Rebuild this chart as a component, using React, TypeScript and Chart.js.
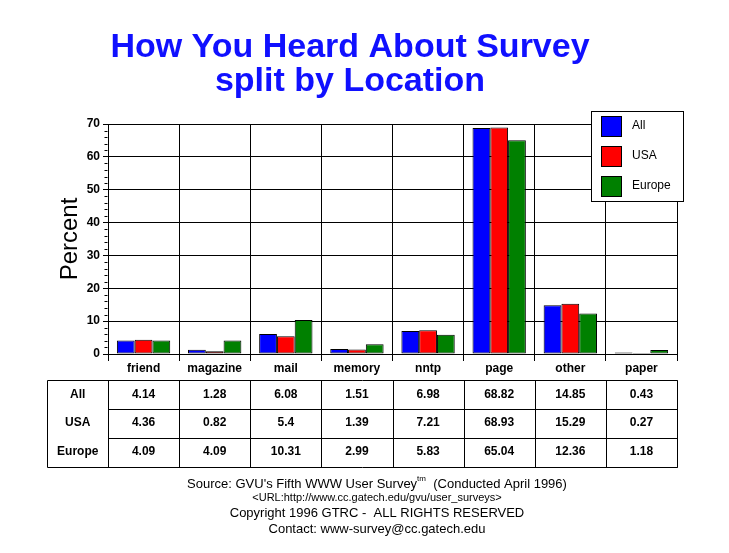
import React, { useEffect, useRef } from "react";
import { Chart, registerables } from "chart.js";

Chart.register(...registerables);

const categories = ["friend", "magazine", "mail", "memory", "nntp", "page", "other", "paper"];
const seriesNames = ["All", "USA", "Europe"];
const allValues = [4.14, 1.28, 6.08, 1.51, 6.98, 68.82, 14.85, 0.43];
const usaValues = [4.36, 0.82, 5.4, 1.39, 7.21, 68.93, 15.29, 0.27];
const europeValues = [4.09, 4.09, 10.31, 2.99, 5.83, 65.04, 12.36, 1.18];
const seriesColors = ["#0000ff", "#ff0000", "#008000"];
const yTicks = [0, 10, 20, 30, 40, 50, 60, 70];
const titleLines = ["How You Heard About Survey", "split by Location"];
const yTitle = "Percent";

const FONT = "Arial, 'Liberation Sans', sans-serif";

const overlay = {
  id: "overlay",
  afterDraw(chart: any) {
    const ctx = chart.ctx as CanvasRenderingContext2D;
    const area = chart.chartArea;
    const xs = chart.scales.x;
    const ys = chart.scales.y;
    ctx.save();

    // Title
    ctx.fillStyle = "#1010ff";
    ctx.font = `bold 34px ${FONT}`;
    ctx.textAlign = "center";
    ctx.textBaseline = "alphabetic";
    ctx.fillText(titleLines[0], 350, 57);
    ctx.fillText(titleLines[1], 350, 91);

    // Y title
    ctx.save();
    ctx.translate(70, (area.top + area.bottom) / 2);
    ctx.rotate(-Math.PI / 2);
    ctx.fillStyle = "#000";
    ctx.font = `24px ${FONT}`;
    ctx.textAlign = "center";
    ctx.textBaseline = "middle";
    ctx.fillText(yTitle, 0, 0);
    ctx.restore();

    // Minor ticks
    ctx.strokeStyle = "#000";
    ctx.lineWidth = 1;
    const ax = Math.round(area.left) - 0.5;
    ctx.beginPath();
    for (let v = 0; v <= ys.max; v += 2) {
      if (v % 10 === 0) continue;
      const y = Math.round(ys.getPixelForValue(v)) + 0.5;
      ctx.moveTo(ax - 3, y);
      ctx.lineTo(ax, y);
    }
    ctx.stroke();

    // Legend
    const lx = 591, ly = 111, lw = 92, lh = 90;
    ctx.fillStyle = "#fff";
    ctx.fillRect(lx, ly, lw, lh);
    ctx.strokeRect(lx + 0.5, ly + 0.5, lw, lh);
    ctx.font = `12px ${FONT}`;
    ctx.textAlign = "left";
    ctx.textBaseline = "middle";
    seriesNames.forEach((name, i) => {
      const sy = 116 + i * 30;
      ctx.fillStyle = seriesColors[i];
      ctx.fillRect(601, sy, 20, 20);
      ctx.strokeStyle = "#000";
      ctx.strokeRect(601.5, sy + 0.5, 20, 20);
      ctx.fillStyle = "#000";
      ctx.fillText(name, 632, sy + 10);
    });

    // Table
    const n = categories.length;
    const cw = (area.right - area.left) / n;
    const tTop = 380.5;
    const rh = 28.7;
    const tLeft = 47.5;
    const tRight = Math.round(area.right) + 0.5;
    const tBottom = Math.round(tTop + 3 * rh) + 0.5;
    ctx.strokeStyle = "#000";
    ctx.beginPath();
    ctx.rect(tLeft, tTop, tRight - tLeft, tBottom - tTop);
    for (let i = 0; i <= n; i++) {
      const x = Math.round(area.left + i * cw) + 0.5;
      ctx.moveTo(x, tTop);
      ctx.lineTo(x, tBottom);
    }
    for (let r = 1; r < 3; r++) {
      const y = Math.round(tTop + r * rh) + 0.5;
      ctx.moveTo(Math.round(area.left) + 0.5, y);
      ctx.lineTo(tRight, y);
    }
    ctx.stroke();
    const rows = [allValues, usaValues, europeValues];
    ctx.fillStyle = "#000";
    ctx.font = `bold 12px ${FONT}`;
    ctx.textAlign = "center";
    ctx.textBaseline = "middle";
    rows.forEach((vals, r) => {
      const cy = tTop + r * rh + rh / 2 - 0.5;
      ctx.fillText(seriesNames[r], (tLeft + area.left) / 2, cy);
      vals.forEach((v, i) => {
        ctx.fillText(String(v), xs.getPixelForValue(i), cy);
      });
    });

    // Footer
    ctx.textBaseline = "middle";
    const fcx = 377;
    const l1a = "Source: GVU's Fifth WWW User Survey";
    const l1b = "  (Conducted April 1996)";
    ctx.font = `13px ${FONT}`;
    const wa = ctx.measureText(l1a).width;
    const wb = ctx.measureText(l1b).width;
    ctx.font = `8px ${FONT}`;
    const wt = ctx.measureText("tm").width;
    const total = wa + wt + wb;
    const sx = fcx - total / 2;
    ctx.textAlign = "left";
    ctx.font = `13px ${FONT}`;
    ctx.fillText(l1a, sx, 484);
    ctx.font = `8px ${FONT}`;
    ctx.fillText("tm", sx + wa, 479);
    ctx.font = `13px ${FONT}`;
    ctx.fillText(l1b, sx + wa + wt, 484);
    ctx.textAlign = "center";
    ctx.font = `11px ${FONT}`;
    ctx.fillText("<URL:http://www.cc.gatech.edu/gvu/user_surveys>", fcx, 497.5);
    ctx.font = `13px ${FONT}`;
    ctx.fillText("Copyright 1996 GTRC -  ALL RIGHTS RESERVED", fcx, 513);
    ctx.fillText("Contact: www-survey@cc.gatech.edu", fcx, 529);

    ctx.restore();
  },
};

export default function App() {
  const ref = useRef<HTMLCanvasElement>(null);
  useEffect(() => {
    if (!ref.current) return;
    const values = [allValues, usaValues, europeValues];
    const chart = new Chart(ref.current, {
      type: "bar",
      data: {
        labels: categories,
        datasets: seriesNames.map((name, i) => ({
          label: name,
          data: values[i],
          backgroundColor: seriesColors[i],
          borderColor: "#000",
          borderWidth: 1,
          borderSkipped: false,
          barPercentage: 1,
          categoryPercentage: 0.75,
        })),
      },
      plugins: [overlay],
      options: {
        animation: false,
        responsive: false,
        devicePixelRatio: 1,
        layout: { padding: { left: 48, right: 52, top: 124, bottom: 0 } },
        plugins: {
          legend: { display: false },
          title: { display: false },
          tooltip: { enabled: false },
        },
        scales: {
          x: {
            type: "category",
            grid: { color: "#000", offset: true, tickLength: 7, lineWidth: 1 },
            border: { color: "#000" },
            ticks: { color: "#000", font: { family: FONT, size: 12, weight: "bold" }, padding: 0, maxRotation: 0 },
            afterFit: (s: any) => {
              s.height = 199;
            },
          },
          y: {
            min: 0,
            max: 70,
            afterBuildTicks: (s: any) => {
              s.ticks = yTicks.map((v) => ({ value: v }));
            },
            grid: { color: "#000", tickLength: 5, lineWidth: 1 },
            border: { color: "#000" },
            ticks: { color: "#000", font: { family: FONT, size: 12, weight: "bold" }, padding: 3 },
            afterFit: (s: any) => {
              s.width = 60;
            },
          },
        },
      },
    });
    return () => chart.destroy();
  }, []);
  return (
    <div style={{ position: "absolute", left: 0, top: 0, width: 729, height: 553, background: "#fff" }}>
      <canvas ref={ref} width={729} height={553} style={{ width: 729, height: 553 }} />
    </div>
  );
}
